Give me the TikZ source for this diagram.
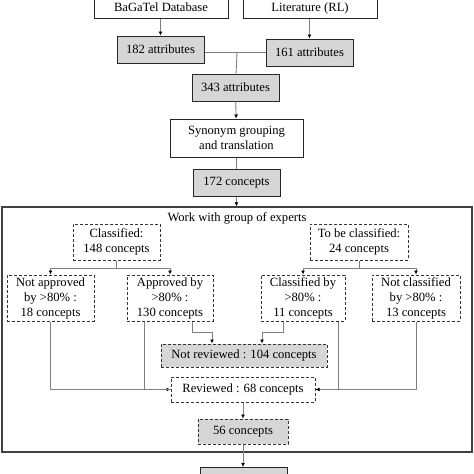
\documentclass[tikz,border=0pt]{standalone}
\usepackage{fontspec}
\setmainfont{Liberation Serif}
\usetikzlibrary{arrows.meta}

\definecolor{boxgray}{RGB}{214,214,214}
\definecolor{linegray}{RGB}{128,128,128}
\definecolor{framegray}{RGB}{64,64,64}

\tikzset{
  solidbox/.style={draw=black!85,line width=1pt,inner sep=2pt,align=center},
  dashbox/.style={draw=black!80,dashed,dash pattern=on 3pt off 2pt,line width=1pt,inner sep=2pt,align=center},
  graybox/.style={fill=boxgray},
  conn/.style={draw=linegray,line width=0.9pt},
}

\begin{document}
\begin{tikzpicture}[x=1pt,y=-1pt,font=\fontsize{12.6}{15}\selectfont,
    >={Latex[length=4pt,width=4pt,color=black]}]
    \useasboundingbox (0,0) rectangle (474,474);
    \clip (0,0) rectangle (474,474);

    %% sources
    \node[solidbox,anchor=south,minimum width=134pt,text height=25pt,text depth=4pt,inner sep=3pt] (1) at (161,19) {BaGaTel Database};
    \node[solidbox,anchor=south,minimum width=134pt,text height=25pt,text depth=4pt,inner sep=3pt] (2) at (310,19) {Literature (RL)};
    \node[solidbox,graybox,minimum width=87pt,minimum height=27pt] (3) at (160.5,49.5) {182 attributes};
    \node[solidbox,graybox,minimum width=87pt,minimum height=27pt] (4) at (309.5,52.5) {161 attributes};
    \node[solidbox,graybox,minimum width=87pt,minimum height=27pt] (5) at (235.5,87.5) {343 attributes};
    \node[solidbox,minimum width=133pt,minimum height=38pt] (6) at (236.5,138) {Synonym grouping\\and translation};
    \node[solidbox,graybox,minimum width=87pt,minimum height=27pt] (7) at (236.5,182.5) {172 concepts};

    %% experts
    \node[draw=framegray,line width=1.4pt,minimum width=470pt,minimum height=245pt] (8) at (237,329.5) {};
    \node (title) at (237,218) {Work with group of experts};
    \node[dashbox,minimum width=87pt,minimum height=36pt] (9) at (116.5,242) {Classified:\\148 concepts};
    \node[dashbox,minimum width=98pt,minimum height=36pt] (10) at (359,242) {To be classified:\\24 concepts};
    \node[dashbox,minimum width=87pt,minimum height=46pt] (11) at (50.5,298) {Not approved\\by >80\% :\\18 concepts};
    \node[dashbox,minimum width=86pt,minimum height=46pt] (12) at (170,298) {Approved by\\>80\% :\\130 concepts};
    \node[dashbox,minimum width=84pt,minimum height=46pt] (13) at (303,298) {Classified by\\>80\% :\\11 concepts};
    \node[dashbox,minimum width=88pt,minimum height=46pt] (14) at (416,298) {Not classified\\by >80\% :\\13 concepts};
    \node[dashbox,graybox,minimum width=166pt,minimum height=23pt] (15) at (244,355.5) {Not reviewed : 104 concepts};
    \node[dashbox,minimum width=144pt,minimum height=25pt] (16) at (243,389.5) {Reviewed : 68 concepts};
    \node[dashbox,graybox,minimum width=90pt,minimum height=25pt] (17) at (243,431.5) {56 concepts};
    \node[solidbox,graybox,minimum width=87pt,minimum height=27pt,anchor=north] (18) at (243.5,467) {};

    %% junctions
    \coordinate (j1) at (237,52);
    \coordinate (j2) at (116.5,268);
    \coordinate (j3) at (359,268);
    \coordinate (j4) at (212,332);
    \coordinate (j5) at (262,332);

    %% top part
    \draw[conn,->] (1.south -| 3) -- (3);
    \draw[conn,->] (2.south -| 4) -- (4);
    \draw[conn] (3.east |- j1) -- (4.west |- j1);
    \draw[conn] (j1) -- (5);
    \draw[conn,->] (5) -- (6);
    \draw[conn] (6) -- (7);
    \draw[conn,->] (7.south) -- (7.south |- 8.north);

    %% splits
    \draw[conn] (9) -- (j2);
    \draw[conn,->] (j2) -| (11);
    \draw[conn,->] (j2) -| (12);
    \draw[conn] (10) -- (j3);
    \draw[conn,->] (j3) -| (13);
    \draw[conn,->] (j3) -| (14);
    %% not reviewed
    \draw[conn,->] ([xshift=22pt]12.south) |- (j4) -- (j4 |- 15.north);
    \draw[conn,->] ([xshift=-20pt]13.south) |- (j5) -- (j5 |- 15.north);
    %% reviewed
    \draw[conn,->] (11) |- (16);
    \draw[conn] ([xshift=-26pt]12.south) |- (16.west);
    \draw[conn] ([xshift=35pt]13.south) |- (16.east);
    \draw[conn,->] (14) |- (16);
    \draw[conn,->] (16) -- (17);
    \draw[conn,->] (17.south) -- (17.south |- 18.north);
\end{tikzpicture}
\end{document}
